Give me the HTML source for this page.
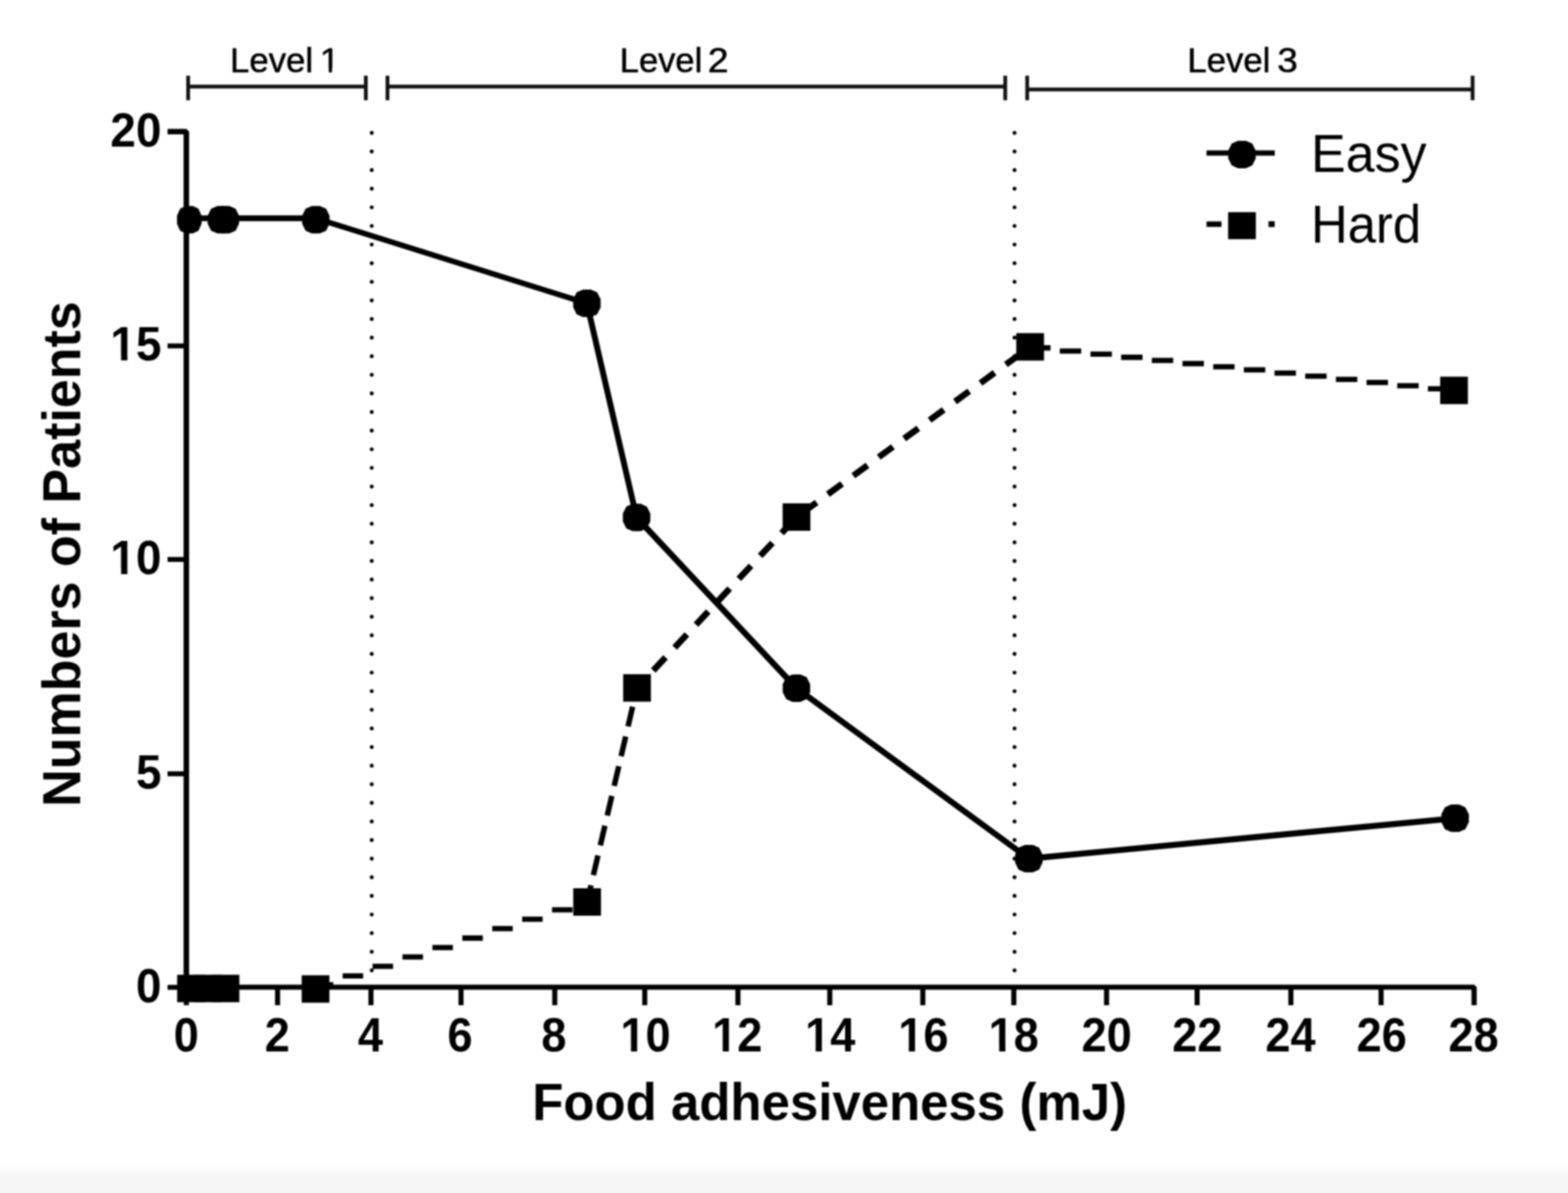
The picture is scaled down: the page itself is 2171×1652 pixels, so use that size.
<!DOCTYPE html>
<html><head><meta charset="utf-8"><title>Food adhesiveness chart</title>
<style>
html,body{margin:0;padding:0;background:#fff;width:2171px;height:1652px;overflow:hidden;}
svg{display:block;}
</style></head><body>
<svg width="2171" height="1652" viewBox="0 0 2171 1652">
<defs><filter id="soft" x="0" y="0" width="1" height="1" color-interpolation-filters="sRGB"><feGaussianBlur stdDeviation="1.0"/></filter><clipPath id="c1" clipPathUnits="userSpaceOnUse"><rect x="-50" y="-1000" width="5000" height="992.32"/><rect x="14.82" y="-8.48" width="8.71" height="66.48"/><rect x="35.32" y="-8.48" width="35.32" height="66.48"/></clipPath><clipPath id="c2" clipPathUnits="userSpaceOnUse"><rect x="-50" y="-1000" width="5000" height="992.32"/><rect x="14.82" y="-8.48" width="8.71" height="66.48"/><rect x="35.32" y="-8.48" width="35.32" height="66.48"/></clipPath><clipPath id="c3" clipPathUnits="userSpaceOnUse"><rect x="-50" y="-1000" width="5000" height="992.32"/><rect x="14.82" y="-8.48" width="8.71" height="66.48"/><rect x="35.32" y="-8.48" width="35.32" height="66.48"/></clipPath><clipPath id="c4" clipPathUnits="userSpaceOnUse"><rect x="-50" y="-1000" width="5000" height="992.32"/><rect x="14.82" y="-8.48" width="8.71" height="66.48"/><rect x="35.32" y="-8.48" width="35.32" height="66.48"/></clipPath><clipPath id="c5" clipPathUnits="userSpaceOnUse"><rect x="-50" y="-1000" width="5000" height="992.32"/><rect x="14.82" y="-8.48" width="8.71" height="66.48"/><rect x="35.32" y="-8.48" width="35.32" height="66.48"/></clipPath><clipPath id="c6" clipPathUnits="userSpaceOnUse"><rect x="-50" y="-1000" width="5000" height="992.32"/><rect x="14.82" y="-8.48" width="8.71" height="66.48"/><rect x="35.32" y="-8.48" width="35.32" height="66.48"/></clipPath><clipPath id="c7" clipPathUnits="userSpaceOnUse"><rect x="-50" y="-1000" width="5000" height="992.32"/><rect x="14.82" y="-8.48" width="8.71" height="66.48"/><rect x="35.32" y="-8.48" width="35.32" height="66.48"/></clipPath><clipPath id="c8" clipPathUnits="userSpaceOnUse"><rect x="-50" y="-1000" width="5000" height="995.24"/><rect x="11.99" y="-5.56" width="4.21" height="63.56"/></clipPath></defs>
<defs><linearGradient id="band" x1="0" y1="0" x2="0" y2="1"><stop offset="0" stop-color="#ffffff"/><stop offset="1" stop-color="#f6f6f6"/></linearGradient></defs>
<rect x="0" y="1613" width="2171" height="15" fill="url(#band)"/>
<rect x="0" y="1628" width="2171" height="24" fill="#f6f6f6"/>
<g filter="url(#soft)">
<rect x="0" y="0" width="2171" height="1612" fill="#fff"/>
<line x1="514.7" y1="184" x2="514.7" y2="1346" stroke="#000" stroke-width="5.4" stroke-linecap="round" stroke-dasharray="0 25.77"/>
<line x1="1404.7" y1="184" x2="1404.7" y2="1346" stroke="#000" stroke-width="5.4" stroke-linecap="round" stroke-dasharray="0 25.77"/>
<path d="M232,182.3 H258 V1367" fill="none" stroke="#000" stroke-width="7.6" stroke-linejoin="bevel"/>
<line x1="232" y1="1367.2" x2="258" y2="1367.2" stroke="#000" stroke-width="6.8"/>
<line x1="232" y1="1071.5" x2="258" y2="1071.5" stroke="#000" stroke-width="6.8"/>
<line x1="232" y1="774.7" x2="258" y2="774.7" stroke="#000" stroke-width="6.8"/>
<line x1="232" y1="479" x2="258" y2="479" stroke="#000" stroke-width="6.8"/>
<path d="M258,1367 H2041 V1392" fill="none" stroke="#000" stroke-width="7.2" stroke-linejoin="bevel"/>
<line x1="258.0" y1="1367" x2="258.0" y2="1392" stroke="#000" stroke-width="7"/>
<line x1="384.3" y1="1367" x2="384.3" y2="1392" stroke="#000" stroke-width="7"/>
<line x1="513.6" y1="1367" x2="513.6" y2="1392" stroke="#000" stroke-width="7"/>
<line x1="638.3" y1="1367" x2="638.3" y2="1392" stroke="#000" stroke-width="7"/>
<line x1="768.1" y1="1367" x2="768.1" y2="1392" stroke="#000" stroke-width="7"/>
<line x1="892.7" y1="1367" x2="892.7" y2="1392" stroke="#000" stroke-width="7"/>
<line x1="1021.7" y1="1367" x2="1021.7" y2="1392" stroke="#000" stroke-width="7"/>
<line x1="1148.9" y1="1367" x2="1148.9" y2="1392" stroke="#000" stroke-width="7"/>
<line x1="1277.7" y1="1367" x2="1277.7" y2="1392" stroke="#000" stroke-width="7"/>
<line x1="1403.7" y1="1367" x2="1403.7" y2="1392" stroke="#000" stroke-width="7"/>
<line x1="1532.1" y1="1367" x2="1532.1" y2="1392" stroke="#000" stroke-width="7"/>
<line x1="1657.5" y1="1367" x2="1657.5" y2="1392" stroke="#000" stroke-width="7"/>
<line x1="1787.3" y1="1367" x2="1787.3" y2="1392" stroke="#000" stroke-width="7"/>
<line x1="1912.2" y1="1367" x2="1912.2" y2="1392" stroke="#000" stroke-width="7"/>
<g transform="translate(188.18,1387.50) scale(1.0000,1.0500)"><text x="0" y="0" font-family="Liberation Sans, Arial, Helvetica, sans-serif" font-weight="bold" font-size="63.50" fill="#000">0</text></g>
<g transform="translate(188.18,1091.80) scale(1.0000,1.0500)"><text x="0" y="0" font-family="Liberation Sans, Arial, Helvetica, sans-serif" font-weight="bold" font-size="63.50" fill="#000">5</text></g>
<g transform="translate(152.87,795.00) scale(1.0000,1.0500)"><text x="0" y="0" font-family="Liberation Sans, Arial, Helvetica, sans-serif" font-weight="bold" font-size="63.50" fill="#000" clip-path="url(#c1)">10</text></g>
<g transform="translate(152.87,499.30) scale(1.0000,1.0500)"><text x="0" y="0" font-family="Liberation Sans, Arial, Helvetica, sans-serif" font-weight="bold" font-size="63.50" fill="#000" clip-path="url(#c2)">15</text></g>
<g transform="translate(152.87,202.60) scale(1.0000,1.0500)"><text x="0" y="0" font-family="Liberation Sans, Arial, Helvetica, sans-serif" font-weight="bold" font-size="63.50" fill="#000">20</text></g>
<g transform="translate(240.41,1456.30) scale(0.9850,1.0500)"><text x="0" y="0" font-family="Liberation Sans, Arial, Helvetica, sans-serif" font-weight="bold" font-size="63.50" fill="#000">0</text></g>
<g transform="translate(366.61,1456.30) scale(0.9850,1.0500)"><text x="0" y="0" font-family="Liberation Sans, Arial, Helvetica, sans-serif" font-weight="bold" font-size="63.50" fill="#000">2</text></g>
<g transform="translate(495.41,1456.30) scale(0.9850,1.0500)"><text x="0" y="0" font-family="Liberation Sans, Arial, Helvetica, sans-serif" font-weight="bold" font-size="63.50" fill="#000">4</text></g>
<g transform="translate(619.61,1456.30) scale(0.9850,1.0500)"><text x="0" y="0" font-family="Liberation Sans, Arial, Helvetica, sans-serif" font-weight="bold" font-size="63.50" fill="#000">6</text></g>
<g transform="translate(749.61,1456.30) scale(0.9850,1.0500)"><text x="0" y="0" font-family="Liberation Sans, Arial, Helvetica, sans-serif" font-weight="bold" font-size="63.50" fill="#000">8</text></g>
<g transform="translate(859.01,1456.30) scale(0.9850,1.0500)"><text x="0" y="0" font-family="Liberation Sans, Arial, Helvetica, sans-serif" font-weight="bold" font-size="63.50" fill="#000" clip-path="url(#c3)">10</text></g>
<g transform="translate(986.01,1456.30) scale(0.9850,1.0500)"><text x="0" y="0" font-family="Liberation Sans, Arial, Helvetica, sans-serif" font-weight="bold" font-size="63.50" fill="#000" clip-path="url(#c4)">12</text></g>
<g transform="translate(1114.71,1456.30) scale(0.9850,1.0500)"><text x="0" y="0" font-family="Liberation Sans, Arial, Helvetica, sans-serif" font-weight="bold" font-size="63.50" fill="#000" clip-path="url(#c5)">14</text></g>
<g transform="translate(1243.71,1456.30) scale(0.9850,1.0500)"><text x="0" y="0" font-family="Liberation Sans, Arial, Helvetica, sans-serif" font-weight="bold" font-size="63.50" fill="#000" clip-path="url(#c6)">16</text></g>
<g transform="translate(1368.81,1456.30) scale(0.9850,1.0500)"><text x="0" y="0" font-family="Liberation Sans, Arial, Helvetica, sans-serif" font-weight="bold" font-size="63.50" fill="#000" clip-path="url(#c7)">18</text></g>
<g transform="translate(1497.51,1456.30) scale(0.9850,1.0500)"><text x="0" y="0" font-family="Liberation Sans, Arial, Helvetica, sans-serif" font-weight="bold" font-size="63.50" fill="#000">20</text></g>
<g transform="translate(1623.01,1456.30) scale(0.9850,1.0500)"><text x="0" y="0" font-family="Liberation Sans, Arial, Helvetica, sans-serif" font-weight="bold" font-size="63.50" fill="#000">22</text></g>
<g transform="translate(1752.01,1456.30) scale(0.9850,1.0500)"><text x="0" y="0" font-family="Liberation Sans, Arial, Helvetica, sans-serif" font-weight="bold" font-size="63.50" fill="#000">24</text></g>
<g transform="translate(1878.21,1456.30) scale(0.9850,1.0500)"><text x="0" y="0" font-family="Liberation Sans, Arial, Helvetica, sans-serif" font-weight="bold" font-size="63.50" fill="#000">26</text></g>
<g transform="translate(2005.41,1456.30) scale(0.9850,1.0500)"><text x="0" y="0" font-family="Liberation Sans, Arial, Helvetica, sans-serif" font-weight="bold" font-size="63.50" fill="#000">28</text></g>
<g transform="translate(111.30,1117.22) rotate(-90) scale(0.9730,1.0000)"><text x="0" y="0" font-family="Liberation Sans, Arial, Helvetica, sans-serif" font-weight="bold" font-size="74.00" fill="#000">Numbers of Patients</text></g>
<g transform="translate(736.88,1550.60) scale(0.9792,1.0000)"><text x="0" y="0" font-family="Liberation Sans, Arial, Helvetica, sans-serif" font-weight="bold" font-size="72.09" fill="#000">Food adhesiveness (mJ)</text></g>
<line x1="260.5" y1="119.8" x2="506.5" y2="119.8" stroke="#111" stroke-width="5.2"/>
<line x1="260.5" y1="104.8" x2="260.5" y2="138.8" stroke="#111" stroke-width="5.2"/>
<line x1="506.5" y1="104.8" x2="506.5" y2="138.8" stroke="#111" stroke-width="5.2"/>
<line x1="536.5" y1="119.8" x2="1391.8" y2="119.8" stroke="#111" stroke-width="5.2"/>
<line x1="536.5" y1="104.8" x2="536.5" y2="138.8" stroke="#111" stroke-width="5.2"/>
<line x1="1391.8" y1="104.8" x2="1391.8" y2="138.8" stroke="#111" stroke-width="5.2"/>
<line x1="1422.2" y1="123.9" x2="2038.9" y2="123.9" stroke="#111" stroke-width="5.2"/>
<line x1="1422.2" y1="104.8" x2="1422.2" y2="138.8" stroke="#111" stroke-width="5.2"/>
<line x1="2038.9" y1="104.8" x2="2038.9" y2="138.8" stroke="#111" stroke-width="5.2"/>
<g transform="translate(318.45,99.50) scale(1.0096,1.0000)"><text x="0" y="0" font-family="Liberation Sans, Arial, Helvetica, sans-serif" font-weight="normal" font-size="47.68" fill="#000" stroke="#000" stroke-width="0.7">Level</text></g>
<g transform="translate(442.40,99.50) scale(1.0675,1.0000)"><text x="0" y="0" font-family="Liberation Sans, Arial, Helvetica, sans-serif" font-weight="normal" font-size="47.68" fill="#000" stroke="#000" stroke-width="0.7" clip-path="url(#c8)">1</text></g>
<g transform="translate(858.08,99.50) scale(1.0021,1.0000)"><text x="0" y="0" font-family="Liberation Sans, Arial, Helvetica, sans-serif" font-weight="normal" font-size="47.68" fill="#000" stroke="#000" stroke-width="0.7">Level</text></g>
<g transform="translate(980.11,99.50) scale(1.0820,1.0000)"><text x="0" y="0" font-family="Liberation Sans, Arial, Helvetica, sans-serif" font-weight="normal" font-size="47.68" fill="#000" stroke="#000" stroke-width="0.7">2</text></g>
<g transform="translate(1644.06,99.50) scale(1.0087,1.0000)"><text x="0" y="0" font-family="Liberation Sans, Arial, Helvetica, sans-serif" font-weight="normal" font-size="47.68" fill="#000" stroke="#000" stroke-width="0.7">Level</text></g>
<g transform="translate(1768.56,99.50) scale(1.0706,1.0000)"><text x="0" y="0" font-family="Liberation Sans, Arial, Helvetica, sans-serif" font-weight="normal" font-size="47.68" fill="#000" stroke="#000" stroke-width="0.7">3</text></g>
<line x1="262.1" y1="302.3" x2="306.5" y2="302.3" stroke="#000" stroke-width="8.0"/>
<line x1="306.5" y1="302.3" x2="312" y2="302.3" stroke="#000" stroke-width="8.0"/>
<line x1="312" y1="302.3" x2="437.3" y2="302.3" stroke="#000" stroke-width="8.0"/>
<line x1="437.3" y1="302.3" x2="812.6" y2="420" stroke="#000" stroke-width="7.6"/>
<line x1="812.6" y1="420" x2="881.4" y2="716.6" stroke="#000" stroke-width="8.2"/>
<line x1="881.4" y1="716.6" x2="1102.7" y2="952.9" stroke="#000" stroke-width="8.4"/>
<line x1="1102.7" y1="952.9" x2="1424.5" y2="1189" stroke="#000" stroke-width="8.2"/>
<line x1="1424.5" y1="1189" x2="2014.7" y2="1133.1" stroke="#000" stroke-width="8.4"/>
<line x1="812.9" y1="1249" x2="882" y2="952.6" stroke="#000" stroke-width="7.6" stroke-dasharray="28.0 14.30" stroke-dashoffset="4.15"/>
<line x1="882" y1="952.6" x2="1102.8" y2="716" stroke="#000" stroke-width="8.8" stroke-dasharray="24.9 18.50" stroke-dashoffset="10.45"/>
<line x1="1102.8" y1="716" x2="1426.3" y2="480.3" stroke="#000" stroke-width="8.8" stroke-dasharray="24.3 19.26" stroke-dashoffset="33.37"/>
<path d="M436.90,1360.08 H461.43 V1367.38 H436.90 Z M474.43,1347.63 H502.85 V1354.93 H474.43 Z M515.85,1334.57 H544.27 V1341.87 H515.85 Z M557.26,1321.50 H585.68 V1328.80 H557.26 Z M598.68,1308.44 H627.10 V1315.74 H598.68 Z M640.10,1295.37 H668.52 V1302.67 H640.10 Z M681.52,1282.31 H709.94 V1289.61 H681.52 Z M722.94,1269.24 H751.36 V1276.54 H722.94 Z M764.36,1256.18 H792.78 V1263.48 H764.36 Z M805.77,1246.47 H812.90 V1253.77 H805.77 Z M1426.30,478.10 H1454.50 V485.40 H1426.30 Z M1467.33,482.39 H1496.98 V489.69 H1467.33 Z M1509.81,486.75 H1539.45 V494.05 H1509.81 Z M1552.29,491.12 H1581.93 V498.42 H1552.29 Z M1594.76,495.48 H1624.41 V502.78 H1594.76 Z M1637.24,499.85 H1666.88 V507.15 H1637.24 Z M1679.72,504.21 H1709.36 V511.51 H1679.72 Z M1722.19,508.57 H1751.84 V515.87 H1722.19 Z M1764.67,512.94 H1794.31 V520.24 H1764.67 Z M1807.15,517.30 H1836.79 V524.60 H1807.15 Z M1849.62,521.67 H1879.27 V528.97 H1849.62 Z M1892.10,526.03 H1921.74 V533.33 H1892.10 Z M1934.57,530.39 H1964.22 V537.69 H1934.57 Z M1977.05,534.76 H2006.69 V542.06 H1977.05 Z" fill="#000"/>
<path d="M267.02,285.30 L274.81,289.10 L279.10,298.80 L279.10,309.80 L274.81,319.50 L267.02,323.30 L257.18,323.30 L249.39,319.50 L245.10,309.80 L245.10,298.80 L249.39,289.10 L257.18,285.30 Z" fill="#000"/>
<path d="M312.00,285.30 L320.70,289.10 L325.50,298.80 L325.50,309.80 L320.70,319.50 L312.00,323.30 L301.00,323.30 L292.30,319.50 L287.50,309.80 L287.50,298.80 L292.30,289.10 L301.00,285.30 Z" fill="#000"/>
<path d="M317.50,285.30 L326.20,289.10 L331.00,298.80 L331.00,309.80 L326.20,319.50 L317.50,323.30 L306.50,323.30 L297.80,319.50 L293.00,309.80 L293.00,298.80 L297.80,289.10 L306.50,285.30 Z" fill="#000"/>
<path d="M442.80,285.30 L451.50,289.10 L456.30,298.80 L456.30,309.80 L451.50,319.50 L442.80,323.30 L431.80,323.30 L423.10,319.50 L418.30,309.80 L418.30,298.80 L423.10,289.10 L431.80,285.30 Z" fill="#000"/>
<path d="M818.10,401.00 L826.80,404.80 L831.60,414.50 L831.60,425.50 L826.80,435.20 L818.10,439.00 L807.10,439.00 L798.40,435.20 L793.60,425.50 L793.60,414.50 L798.40,404.80 L807.10,401.00 Z" fill="#000"/>
<path d="M886.90,697.60 L895.60,701.40 L900.40,711.10 L900.40,722.10 L895.60,731.80 L886.90,735.60 L875.90,735.60 L867.20,731.80 L862.40,722.10 L862.40,711.10 L867.20,701.40 L875.90,697.60 Z" fill="#000"/>
<path d="M1108.20,933.90 L1116.90,937.70 L1121.70,947.40 L1121.70,958.40 L1116.90,968.10 L1108.20,971.90 L1097.20,971.90 L1088.50,968.10 L1083.70,958.40 L1083.70,947.40 L1088.50,937.70 L1097.20,933.90 Z" fill="#000"/>
<path d="M1430.00,1170.00 L1438.70,1173.80 L1443.50,1183.50 L1443.50,1194.50 L1438.70,1204.20 L1430.00,1208.00 L1419.00,1208.00 L1410.30,1204.20 L1405.50,1194.50 L1405.50,1183.50 L1410.30,1173.80 L1419.00,1170.00 Z" fill="#000"/>
<path d="M2020.20,1114.10 L2028.90,1117.90 L2033.70,1127.60 L2033.70,1138.60 L2028.90,1148.30 L2020.20,1152.10 L2009.20,1152.10 L2000.50,1148.30 L1995.70,1138.60 L1995.70,1127.60 L2000.50,1117.90 L2009.20,1114.10 Z" fill="#000"/>
<rect x="245.3" y="1349.8" width="38.4" height="38" fill="#000"/>
<rect x="268.8" y="1349.8" width="38.4" height="38" fill="#000"/>
<rect x="293.0" y="1349.8" width="38.4" height="38" fill="#000"/>
<rect x="417.7" y="1350.5" width="38.4" height="38" fill="#000"/>
<rect x="793.6999999999999" y="1230" width="38.4" height="38" fill="#000"/>
<rect x="862.8" y="933.6" width="38.4" height="38" fill="#000"/>
<rect x="1083.6" y="697" width="38.4" height="38" fill="#000"/>
<rect x="1407.1" y="461.3" width="38.4" height="38" fill="#000"/>
<rect x="1994.0" y="521.6" width="38.4" height="38" fill="#000"/>
<line x1="1670.5" y1="211.9" x2="1765" y2="211.9" stroke="#000" stroke-width="7.2"/>
<path d="M1725.10,194.90 L1733.80,198.70 L1738.60,208.40 L1738.60,219.40 L1733.80,229.10 L1725.10,232.90 L1714.10,232.90 L1705.40,229.10 L1700.60,219.40 L1700.60,208.40 L1705.40,198.70 L1714.10,194.90 Z" fill="#000"/>
<line x1="1670.5" y1="310.4" x2="1691.3" y2="310.4" stroke="#000" stroke-width="7.6"/>
<rect x="1756.3" y="306.4" width="8.6" height="8" fill="#000"/>
<rect x="1700.4" y="293.8" width="38.4" height="37.4" fill="#000"/>
<g transform="translate(1815.30,238.00) scale(0.9623,1.0000)"><text x="0" y="0" font-family="Liberation Sans, Arial, Helvetica, sans-serif" font-weight="normal" font-size="74.71" fill="#000">Easy</text></g>
<g transform="translate(1815.13,335.80) scale(0.9567,1.0000)"><text x="0" y="0" font-family="Liberation Sans, Arial, Helvetica, sans-serif" font-weight="normal" font-size="73.55" fill="#000">Hard</text></g>
</g>
</svg>
</body></html>
